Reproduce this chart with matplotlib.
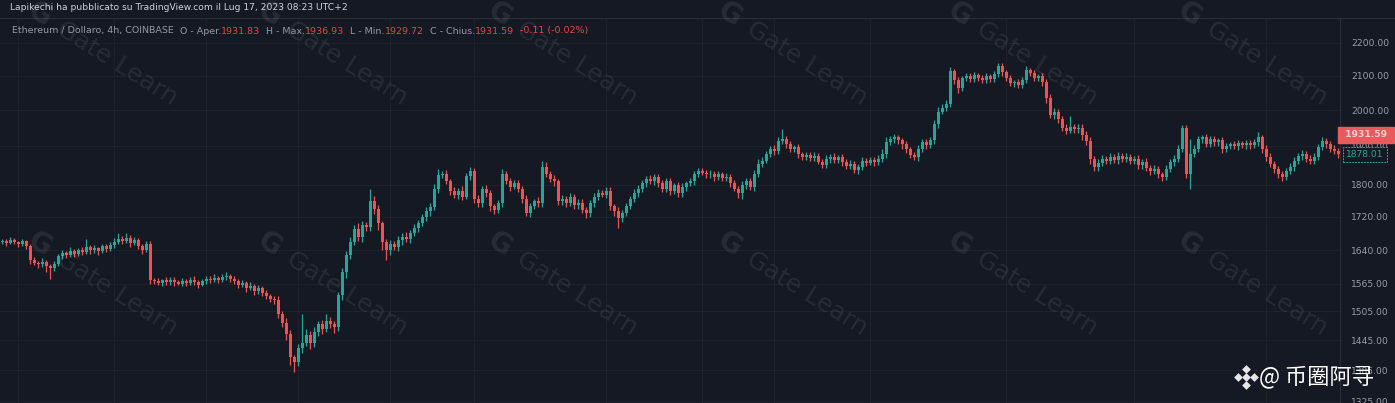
import matplotlib
matplotlib.use("Agg")
import matplotlib.pyplot as plt
import numpy as np
from matplotlib.ticker import FixedLocator, FuncFormatter, NullLocator
from matplotlib.transforms import blended_transform_factory

W, H = 1395, 403
BG = "#151924"
GRID = "#1d212c"
UP = "#26a69a"
DOWN = "#ef5350"
AXIS_TEXT = "#9a9da6"

# ETH/USD 4h candles (one value per candle)
first_open = 1660
closes = [
    1662, 1658, 1664, 1660, 1656, 1661, 1650, 1618, 1612, 1608,
    1614, 1605, 1600, 1610, 1628, 1635, 1630, 1638, 1633, 1641,
    1636, 1648, 1640, 1645, 1638, 1650, 1644, 1652, 1660, 1668,
    1662, 1670, 1658, 1664, 1650, 1642, 1655,
    1572, 1570, 1566, 1572, 1568, 1574, 1569, 1565, 1571, 1567,
    1573, 1568, 1563, 1570, 1576, 1572, 1578, 1574, 1580, 1583,
    1576, 1570, 1562, 1566, 1556, 1560, 1548, 1555, 1545, 1538,
    1532, 1530,
    1500, 1480, 1458, 1410, 1400, 1428, 1440, 1455, 1438, 1462,
    1478, 1468, 1485, 1478, 1472, 1540, 1590, 1630, 1660, 1690,
    1672, 1700, 1695, 1760, 1740, 1705, 1660, 1640, 1655, 1648,
    1665, 1672, 1668, 1680, 1692, 1705, 1720, 1735, 1745, 1790,
    1825,
    1828, 1808, 1785, 1775, 1785, 1770, 1823, 1836, 1765, 1753,
    1790, 1778, 1746, 1737, 1753, 1828, 1810, 1795, 1803, 1790,
    1765, 1729, 1746, 1758, 1753, 1846, 1828, 1815, 1808, 1758,
    1765, 1753, 1770, 1748, 1755, 1737, 1729, 1753, 1770, 1780,
    1775, 1785, 1746, 1734, 1717, 1729, 1746, 1765, 1778, 1790,
    1803, 1815, 1808, 1820, 1803, 1790, 1808, 1783, 1798, 1778,
    1795, 1803, 1808, 1828, 1836, 1831, 1826, 1828, 1820, 1826,
    1818, 1820, 1803, 1790, 1778, 1798, 1808, 1795, 1828, 1854,
    1862, 1880, 1893, 1888, 1914, 1919, 1906, 1893, 1898, 1880,
    1872, 1877, 1870, 1875, 1859, 1851, 1867, 1872, 1864, 1872,
    1859, 1849, 1854, 1838, 1846, 1862, 1857, 1864, 1859, 1867,
    1880, 1911, 1919, 1924, 1916, 1906, 1893, 1877, 1872, 1893,
    1911, 1903, 1916, 1960, 1996,
    2007, 2018, 2113, 2087, 2063, 2093, 2099, 2090, 2102, 2093,
    2087, 2099, 2090, 2105, 2128, 2110, 2093, 2078, 2081, 2072,
    2087, 2116, 2108, 2093, 2099, 2081, 2035, 1987, 1996, 1974,
    1951, 1943, 1954, 1946, 1951, 1930, 1914, 1867, 1846, 1857,
    1867, 1862, 1872, 1864, 1875, 1867, 1872, 1862, 1867, 1851,
    1859, 1843, 1836, 1841, 1826, 1820, 1841, 1859, 1867, 1893,
    1951, 1826, 1880, 1893, 1919, 1924, 1906, 1919, 1911, 1916,
    1893, 1901, 1906, 1901, 1908, 1903, 1908, 1903, 1911, 1924,
    1893, 1872, 1854, 1841, 1826, 1820, 1836, 1846, 1862, 1875,
    1880, 1867, 1862, 1872, 1898, 1914, 1906, 1893, 1888, 1880,
]
# upper / lower wick beyond the body, in dollars
wick_up = [
    6, 4, 8, 5, 3, 7, 4, 5, 6, 3, 8, 4, 5, 6, 3, 7, 4, 9, 5, 4,
    6, 20, 5, 7, 4, 6, 5, 8, 9, 12, 7, 10, 6, 8, 5, 4, 6,
    6, 5, 7, 4, 8, 5, 6, 4, 7, 5, 6, 8, 4, 5, 7, 6, 9, 5, 6, 8,
    4, 5, 6, 7, 5, 8, 4, 6, 5, 7, 4, 6,
    8, 6, 10, 7, 5, 9, 60, 12, 8, 10, 6, 9, 14, 8, 6, 7, 10, 8, 12, 9,
    14, 10, 8, 28, 12, 10, 6, 8, 9, 7, 10, 8, 12, 9, 10, 8, 7, 9, 10, 12,
    14,
    8, 10, 6, 9, 7, 12, 8, 10, 6, 9, 7, 10, 8, 6, 9, 12, 8, 7, 10, 8,
    6, 9, 8, 7, 10, 16, 12, 8, 9, 6, 8, 7, 9, 6, 10, 8, 7, 9, 8, 10,
    7, 9, 8, 6, 10, 8, 9, 7, 10, 8, 9, 7, 10, 8, 6, 9, 8, 10, 7, 9,
    8, 6, 9, 7, 8, 6, 7, 9, 6, 8, 7, 9, 6, 8, 7, 10, 8, 9, 10, 12,
    10, 8, 9, 12, 10, 27, 9, 8, 7, 9, 6, 8, 7, 9, 6, 8, 10, 7, 9, 6,
    8, 7, 9, 6, 8, 10, 7, 9, 8, 10, 12, 14, 10, 9, 8, 7, 9, 6, 8, 10,
    9, 8, 10, 12, 14,
    10, 12, 13, 8, 9, 7, 10, 8, 9, 7, 8, 10, 7, 9, 10, 10, 8, 9, 7, 8,
    9, 12, 8, 10, 7, 9, 10, 12, 9, 8, 10, 9, 28, 8, 10, 9, 12, 10, 8, 9,
    10, 8, 9, 7, 10, 8, 9, 7, 8, 10, 8, 9, 7, 10, 8, 7, 9, 8, 10, 12,
    6, 8, 40, 10, 9, 8, 10, 9, 8, 7, 9, 8, 7, 9, 8, 7, 9, 8, 9, 16,
    8, 10, 9, 8, 7, 9, 8, 10, 9, 8, 9, 8, 10, 9, 8, 10, 8, 9, 10, 8,
]
wick_dn = [
    5, 8, 4, 6, 9, 5, 7, 10, 6, 8, 5, 14, 24, 6, 5, 8, 7, 4, 9, 5,
    6, 4, 8, 5, 9, 4, 7, 5, 6, 4, 8, 5, 9, 6, 7, 10, 5,
    8, 5, 4, 7, 5, 6, 9, 4, 5, 7, 6, 5, 8, 4, 6, 5, 4, 7, 5, 6,
    8, 6, 7, 5, 9, 6, 8, 5, 7, 6, 8, 10,
    10, 8, 12, 15, 18, 8, 10, 7, 12, 8, 9, 10, 7, 9, 12, 8, 10, 12, 9, 8,
    10, 12, 9, 8, 14, 16, 18, 22, 10, 8, 9, 12, 8, 10, 7, 9, 8, 10, 12, 8,
    10,
    9, 7, 10, 8, 12, 9, 7, 12, 10, 8, 9, 8, 12, 10, 7, 9, 8, 10, 7, 9,
    10, 8, 9, 7, 8, 10, 9, 8, 12, 10, 9, 8, 7, 10, 9, 8, 12, 10, 9, 8,
    7, 9, 10, 12, 24, 9, 8, 7, 9, 8, 8, 9, 7, 8, 10, 9, 8, 10, 7, 9,
    8, 10, 7, 9, 8, 7, 9, 8, 10, 7, 9, 8, 10, 7, 12, 14, 9, 8, 10, 8,
    9, 7, 8, 10, 9, 8, 10, 9, 8, 10, 7, 9, 8, 10, 7, 9, 8, 10, 9, 8,
    10, 8, 9, 7, 10, 8, 9, 7, 10, 8, 9, 10, 8, 9, 10, 12, 10, 9, 8, 10,
    9, 10, 8, 9, 10,
    8, 10, 9, 12, 15, 9, 8, 10, 9, 8, 9, 10, 8, 9, 8, 10, 9, 10, 12, 9,
    10, 9, 8, 10, 9, 12, 14, 10, 12, 9, 10, 9, 8, 10, 9, 12, 10, 14, 12, 10,
    9, 10, 8, 9, 10, 9, 8, 10, 9, 10, 10, 9, 12, 10, 9, 10, 8, 9, 10, 8,
    8, 10, 36, 9, 8, 10, 9, 8, 10, 9, 10, 9, 8, 9, 10, 8, 9, 10, 8, 9,
    10, 12, 9, 10, 9, 10, 8, 9, 10, 9, 10, 9, 8, 10, 9, 8, 10, 9, 8, 10,
]

price_ticks = [1325, 1385, 1445, 1505, 1565, 1640, 1720, 1800, 1900, 2000, 2100, 2200]
time_grid = [4, 28, 51, 74, 97, 118, 151, 175, 193, 217, 251, 283, 316]
last_price = 1931.59
line_price = 1878.01

header = "Lapikechi ha pubblicato su TradingView.com il Lug 17, 2023 08:23 UTC+2"
legend_parts = [
    ("Ethereum / Dollaro, 4h, COINBASE  ", False),
    ("O - Aper.", False), ("1931.83", True),
    ("  H - Max.", False), ("1936.93", True),
    ("  L - Min.", False), ("1929.72", True),
    ("  C - Chius.", False), ("1931.59", True),
    ("  -0.11 (-0.02%)", True),
]
signature = "@ 币圈阿寻"

o = np.array([first_open] + closes[:-1], dtype=float)
c = np.array(closes, dtype=float)
hi = np.maximum(o, c) + np.array(wick_up)
lo = np.minimum(o, c) - np.array(wick_dn)
x = np.arange(len(c))
col = np.where(c >= o, UP, DOWN)

fig = plt.figure(figsize=(W / 100, H / 100), dpi=100, facecolor=BG)
ax = fig.add_axes([0, 0, 1340 / W, (H - 18) / H])
ax.set_facecolor(BG)
ax.set_yscale("log")
ax.set_xlim(-0.5, len(c) - 0.5)
ax.set_ylim(1322, 2278)

ax.vlines(x, lo, hi, colors=col, linewidth=0.9, zorder=3)
ax.bar(x, np.maximum(np.abs(c - o), 2), bottom=np.minimum(o, c), width=0.75,
       color=col, linewidth=0, zorder=3)

ax.yaxis.set_major_locator(FixedLocator(price_ticks))
ax.yaxis.set_minor_locator(NullLocator())
ax.yaxis.set_major_formatter(FuncFormatter(lambda v, _: f"{v:.2f}"))
ax.yaxis.tick_right()
ax.xaxis.set_major_locator(FixedLocator(time_grid))
ax.tick_params(axis="y", length=0, pad=8, labelsize=6.6, labelcolor=AXIS_TEXT)
ax.tick_params(axis="x", length=0, labelbottom=False)
ax.grid(True, color=GRID, linewidth=0.8, zorder=0)
for side in ("top", "bottom", "left"):
    ax.spines[side].set_visible(False)
ax.spines["right"].set_color("#2a2e39")

# price labels on the scale
tr = blended_transform_factory(ax.transAxes, ax.transData)
ax.text(1.0015, last_price, " 1931.59 ", transform=tr, ha="left", va="center",
        fontsize=6.6, color="#f5d0d0", fontweight="bold", clip_on=False, zorder=6,
        bbox=dict(boxstyle="square,pad=0.4", fc="#e85a5c", ec="#e85a5c"))
ax.text(1.0045, line_price, "1878.01", transform=tr, ha="left", va="center",
        fontsize=6.6, color=UP, clip_on=False, zorder=6,
        bbox=dict(boxstyle="square,pad=0.35", fc=BG, ec=UP, lw=0.7, ls=(0, (2, 1))))

# overlay in pixel units for texts and watermarks
ov = fig.add_axes([0, 0, 1, 1])
ov.set_xlim(0, W)
ov.set_ylim(H, 0)
ov.axis("off")
ov.patch.set_alpha(0)

ov.axhline(18, xmin=0, xmax=1, color="#2a2e39", linewidth=0.8)
ov.text(10, 8, header, fontsize=6.6, color="#d0d2d8", va="center", ha="left")

fig.canvas.draw()
renderer = fig.canvas.get_renderer()
cx = 12
for txt, red in legend_parts:
    t = ov.text(cx, 31, txt, fontsize=6.8, va="center", ha="left",
                color="#e04848" if red else "#9598a1")
    cx += t.get_window_extent(renderer).width

for row in (14, 244):
    for k in range(6):
        lx = 40 + 230 * k
        ov.text(lx, row, "G", fontsize=20, fontweight="bold", color="white",
                alpha=0.08, rotation=-32, ha="center", va="center",
                rotation_mode="anchor")
        ov.text(lx + 19, row + 13, "Gate Learn", fontsize=18, color="white",
                alpha=0.08, rotation=-32, ha="left", va="center",
                rotation_mode="anchor")

# signature bottom right
for dx, dy in [(0, 0), (-8, 0), (8, 0), (0, -8), (0, 8)]:
    ov.scatter(1246 + dx, 377 + dy, marker="D", s=20, color="#e6e6e6", linewidths=0)
ov.text(1259, 377, signature, fontsize=16, color="white", va="center", ha="left",
        family=["Noto Sans CJK SC", "DejaVu Sans"])

fig.savefig("out.png", dpi=100, facecolor=BG)
